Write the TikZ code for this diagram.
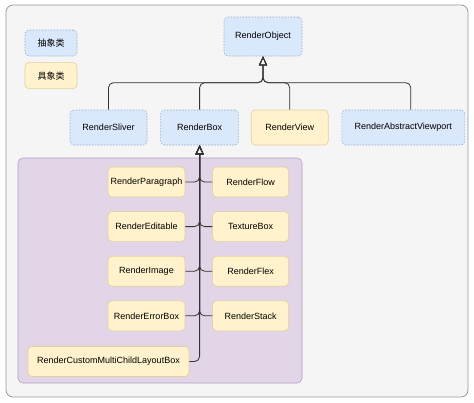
\documentclass[tikz,border=0pt]{standalone}
\usepackage{fontspec}
\setmainfont{Liberation Sans}
\newfontfamily\cjkfont{Noto Sans CJK SC}
\usetikzlibrary{positioning,arrows.meta}
\definecolor{rdFrame}{HTML}{F5F5F5}
\definecolor{rdFrameD}{HTML}{9A9A9A}
\definecolor{rdBlue}{HTML}{8FA6C8}
\definecolor{rdBlueL}{HTML}{DAE8FC}
\definecolor{rdYellow}{HTML}{E2CF9C}
\definecolor{rdYellowL}{HTML}{FFF2CC}
\definecolor{rdPurple}{HTML}{B39DC4}
\definecolor{rdPurpleL}{HTML}{E1D5E7}
\definecolor{rdLine}{HTML}{333333}
\tikzset{
  rd-box/.style={
    line width=0.6pt, rounded corners=4pt,
    font=\fontsize{9}{11}\selectfont, align=center,
    inner sep=2pt, minimum height=35pt
  },
  rd-abs/.style={rd-box, draw=rdBlue, fill=rdBlueL, dash pattern=on 1.5pt off 1.5pt},
  rd-con/.style={rd-box, draw=rdYellow, fill=rdYellowL},
  rd-leaf/.style={rd-con, minimum height=30pt},
  rd-legend/.style={font=\cjkfont\fontsize{9}{11}\selectfont,
    minimum width=52pt, minimum height=26pt},
  rd-inherit/.style={-{Triangle[open, length=9pt, width=8pt]},
    line width=0.8pt, draw=rdLine, rounded corners=5pt}
}
\begin{document}
\begin{tikzpicture}[x=1pt, y=-1pt, node distance=14pt and 27pt]
\useasboundingbox (0,0) rectangle (474,402);
% frame
\draw[draw=rdFrameD, fill=rdFrame, line width=0.8pt, rounded corners=7pt]
  (6,5) rectangle (468,397);

% legend
\node[rd-abs, rd-legend] (legabs) at (51,43) {抽象类};
\node[rd-con, rd-legend, below=6pt of legabs] (legcon) {具象类};

% root
\node[rd-abs, minimum width=78pt, minimum height=39pt] (robj) at (263,36.5)
  {RenderObject};

% second row
\node[rd-abs, minimum width=77pt] (sliver) at (108.5,127.5) {RenderSliver};
\node[rd-abs, right=13pt of sliver, minimum width=78pt] (rbox) {RenderBox};
\node[rd-con, right=12pt of rbox, minimum width=77pt] (rview) {RenderView};
\node[rd-abs, right=13pt of rview, minimum width=123pt] (viewport)
  {RenderAbstractViewport};

% RenderBox group
\draw[draw=rdPurple, fill=rdPurpleL, line width=0.6pt, rounded corners=5pt]
  (18,158) rectangle (302,383);

\node[rd-leaf, minimum width=77pt] (para) at (146.5,182) {RenderParagraph};
\node[rd-leaf, below=of para, minimum width=77pt] (editable) {RenderEditable};
\node[rd-leaf, below=of editable, minimum width=77pt] (image) {RenderImage};
\node[rd-leaf, below=of image, minimum width=77pt] (errbox) {RenderErrorBox};
\node[rd-leaf, minimum width=161pt] (custom) at (108.5,361.5)
  {RenderCustomMultiChildLayoutBox};

\node[rd-leaf, right=of para, minimum width=76pt] (flow) {RenderFlow};
\node[rd-leaf, right=of editable, minimum width=76pt] (texture) {TextureBox};
\node[rd-leaf, right=of image, minimum width=76pt] (flex) {RenderFlex};
\node[rd-leaf, right=of errbox, minimum width=76pt] (stack) {RenderStack};

% inheritance
\foreach \n in {sliver, rbox, rview}
  \draw[rd-inherit] (\n.north) -- ++(0,27pt) -| (robj.south);
\draw[rd-inherit] ([xshift=7.5pt]viewport.north) -- ++(0,27pt) -| (robj.south);

\foreach \n in {para, editable, image, errbox, custom}
  \draw[rd-inherit] (\n.east) -| (rbox.south);
\foreach \n in {flow, texture, flex, stack}
  \draw[rd-inherit] (\n.west) -| (rbox.south);
\end{tikzpicture}
\end{document}
